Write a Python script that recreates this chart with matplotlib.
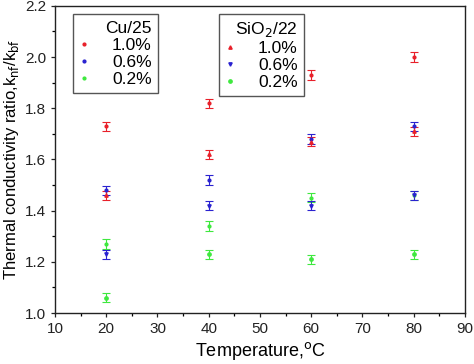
import matplotlib
matplotlib.use("Agg")
import matplotlib.pyplot as plt
from matplotlib.ticker import MultipleLocator

plt.rcParams['font.family'] = ['Liberation Sans', 'DejaVu Sans']

temps = [20, 40, 60, 80]
cu_10 = [1.73, 1.82, 1.93, 2.00]
cu_06 = [1.48, 1.52, 1.68, 1.73]
cu_02 = [1.27, 1.34, 1.45, 1.46]
si_10 = [1.46, 1.62, 1.67, 1.71]
si_06 = [1.23, 1.42, 1.42, 1.46]
si_02 = [1.06, 1.23, 1.21, 1.23]
err = 0.018
labels = ['1.0%', '0.6%', '0.2%']
colors = ['#e8202a', '#2a22d0', '#3ee83e']

fig = plt.figure(figsize=(4.74, 3.64), dpi=100)
ax = fig.add_axes([0.116, 0.140, 0.865, 0.844])

cu_handles = []
for vals, c, lab in zip([cu_10, cu_06, cu_02], colors, labels):
    h = ax.errorbar(temps, vals, yerr=err, fmt='o', ms=2.0, color=c, mfc=c, mec=c,
                    ecolor=c, elinewidth=0.8, capsize=2.8, capthick=0.8, label=lab)
    cu_handles.append(h)
si_handles = []
for vals, c, lab, m in zip([si_10, si_06, si_02], colors, labels, ['^', 'v', 'o']):
    h = ax.errorbar(temps, vals, yerr=err, fmt=m, ms=2.4, color=c, mfc=c, mec=c,
                    ecolor=c, elinewidth=0.8, capsize=2.8, capthick=0.8, label=lab)
    si_handles.append(h)

ax.set_xlim(10, 90)
ax.set_ylim(1.0, 2.2)
ax.xaxis.set_major_locator(MultipleLocator(10))
ax.xaxis.set_minor_locator(MultipleLocator(5))
ax.yaxis.set_major_locator(MultipleLocator(0.2))
ax.yaxis.set_minor_locator(MultipleLocator(0.1))
ax.yaxis.set_major_formatter(matplotlib.ticker.FormatStrFormatter('%.1f'))
ax.tick_params(which='major', direction='out', length=3, width=0.9, labelsize=11, colors='#222222')
ax.tick_params(which='minor', direction='out', length=2, width=0.9)
for s in ax.spines.values():
    s.set_linewidth(1.0)
    s.set_color('#222222')

ax.set_xlabel('Temperature,$^{\\mathrm{o}}$C', fontsize=13, labelpad=3)
ax.set_ylabel('Thermal conductivity ratio,k$_{\\mathrm{nf}}$/k$_{\\mathrm{bf}}$', fontsize=12, labelpad=3)

def no_err(hs):
    return [h[0] for h in hs]

common = dict(loc='upper left', fontsize=12.5, title_fontsize=12.5,
              alignment='right', frameon=True, fancybox=False, edgecolor='#555555',
              framealpha=1, handlelength=0.6, handletextpad=1.3, borderpad=0.35,
              labelspacing=0.12, borderaxespad=0)
leg1 = ax.legend(no_err(cu_handles), labels, title='Cu/25',
                 bbox_to_anchor=(0.044, 0.972), **common)
leg1.get_frame().set_linewidth(1.0)
ax.add_artist(leg1)
leg2 = ax.legend(no_err(si_handles), labels, title='SiO$_2$/22',
                 bbox_to_anchor=(0.40, 0.975), **common)
leg2.get_frame().set_linewidth(1.0)

fig.savefig('out.png', dpi=100)
